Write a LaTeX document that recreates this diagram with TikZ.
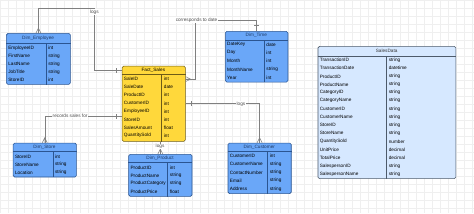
\documentclass[tikz,border=0pt]{standalone}
\usepackage{fontspec}
\setmainfont{Liberation Sans}
\usetikzlibrary{calc,positioning}
\definecolor{dimblue}{HTML}{6AA7F8}
\definecolor{dimline}{HTML}{2B5591}
\definecolor{dimtext}{HTML}{1E3A66}
\definecolor{factyellow}{HTML}{FFD83B}
\definecolor{factline}{HTML}{6E5C17}
\definecolor{srcblue}{HTML}{D6E8FF}
\definecolor{srcline}{HTML}{4D5A6A}
\definecolor{linegray}{HTML}{808080}
\definecolor{gridgray}{HTML}{EFEFEF}

\begin{document}
\begin{tikzpicture}[x=1pt, y=-1pt,
    every node/.style={font=\fontsize{4.7}{5}\selectfont, text=black, inner sep=0pt},
    dimbox/.style={draw=dimline, fill=dimblue, line width=0.6pt, rounded corners=1.5pt, anchor=north west},
    factbox/.style={draw=factline, fill=factyellow, line width=0.6pt, rounded corners=1.5pt, anchor=north west},
    srcbox/.style={draw=srcline, fill=srcblue, line width=0.6pt, rounded corners=1.5pt, anchor=north west},
    fld/.style={anchor=west},
    head/.style={text=dimtext},
    conn/.style={draw=linegray, line width=0.5pt},
    lbl/.style={fill=white, inner sep=0.6pt, text=black!70},
    crow/.pic={\draw[linegray, line width=0.5pt] (-2.5pt,0pt) -- (0pt,5pt) -- (2.5pt,0pt) (0pt,0pt) -- (0pt,5pt);},
    onebar/.pic={\draw[linegray, line width=0.5pt] (-2.5pt,6pt) -- (2.5pt,6pt);}]

    % Background grid
    \fill[white] (0,0) rectangle (474,213);
    \draw[gridgray, line width=0.3pt, step=8pt] (0,0) grid (474,213);
    \useasboundingbox (0,0) rectangle (474,213);

    % Dim_Employee
    \node[dimbox, minimum width=64pt, minimum height=51pt] (emp) at (6,33) {};
    \draw[dimline, line width=0.6pt] ([yshift=-10pt]emp.north west) -- ([yshift=-10pt]emp.north east);
    \draw[dimline, line width=0.6pt] ([xshift=40pt,yshift=-10pt]emp.north west) -- ([xshift=40pt]emp.south west);
    \node[head] (emp-h) at (38,38) {Dim\_Employee};
    \foreach \f/\t [count=\i] in {EmployeeID/int, FirstName/string, LastName/string, JobTitle/string, StoreID/int}{
        \node[fld] (emp-f\i) at (8,40+8*\i) {\f};
        \node[fld] (emp-t\i) at (48,40+8*\i) {\t};
    }

    % Fact_Sales
    \node[factbox, minimum width=63.3pt, minimum height=75.3pt] (fact) at (121.7,65.7) {};
    \draw[factline, line width=0.6pt] ([yshift=-8.6pt]fact.north west) -- ([yshift=-8.6pt]fact.north east);
    \draw[factline, line width=0.6pt] ([xshift=40pt,yshift=-8.6pt]fact.north west) -- ([xshift=40pt]fact.south west);
    \node (fact-h) at (153.3,70) {Fact\_Sales};
    \foreach \f/\t [count=\i] in {SaleID/int, SaleDate/date, ProductID/int, CustomerID/int, EmployeeID/int, StoreID/int, SalesAmount/float, QuantitySold/int}{
        \node[fld] (fact-f\i) at (123.7,70.9+8.1*\i) {\f};
        \node[fld] (fact-t\i) at (163.7,70.9+8.1*\i) {\t};
    }

    % Dim_Time
    \node[dimbox, minimum width=62.7pt, minimum height=50.7pt] (time) at (225,31) {};
    \draw[dimline, line width=0.6pt] ([yshift=-9pt]time.north west) -- ([yshift=-9pt]time.north east);
    \draw[dimline, line width=0.6pt] ([xshift=39.3pt,yshift=-9pt]time.north west) -- ([xshift=39.3pt]time.south west);
    \node[head] (time-h) at (256.3,35.5) {Dim\_Time};
    \foreach \f/\t [count=\i] in {DateKey/date, Day/int, Month/int, MonthName/string, Year/int}{
        \node[fld] (time-f\i) at (227,36+8.35*\i) {\f};
        \node[fld] (time-t\i) at (266.3,36+8.35*\i) {\t};
    }

    % SalesData
    \node[srcbox, minimum width=138pt, minimum height=132.3pt] (src) at (317.7,46) {};
    \draw[srcline, line width=0.6pt] ([yshift=-10pt]src.north west) -- ([yshift=-10pt]src.north east);
    \draw[srcline, line width=0.6pt] ([xshift=69pt,yshift=-10pt]src.north west) -- ([xshift=69pt]src.south west);
    \node[text=black!80] (src-h) at (386.7,51) {SalesData};
    \foreach \f/\t [count=\i] in {TransactionID/string, TransactionDate/datetime, ProductID/string, ProductName/string,
        CategoryID/string, CategoryName/string, CustomerID/string, CustomerName/string, StoreID/string, StoreName/string,
        QuantitySold/number, UnitPrice/decimal, TotalPrice/decimal, SalespersonID/string, SalespersonName/string}{
        \node[fld] (src-f\i) at (319.7,51.86+8.14*\i) {\f};
        \node[fld] (src-t\i) at (388.7,51.86+8.14*\i) {\t};
    }

    % Dim_Store
    \node[dimbox, minimum width=63.3pt, minimum height=34pt] (store) at (12.7,142.7) {};
    \draw[dimline, line width=0.6pt] ([yshift=-9pt]store.north west) -- ([yshift=-9pt]store.north east);
    \draw[dimline, line width=0.6pt] ([xshift=40pt,yshift=-9pt]store.north west) -- ([xshift=40pt]store.south west);
    \node[head] (store-h) at (44.3,147.2) {Dim\_Store};
    \foreach \f/\t [count=\i] in {StoreID/int, StoreName/string, Location/string}{
        \node[fld] (store-f\i) at (14.7,148.8+7.9*\i) {\f};
        \node[fld] (store-t\i) at (54.7,148.8+7.9*\i) {\t};
    }

    % Dim_Product
    \node[dimbox, minimum width=63.4pt, minimum height=42pt] (prod) at (128.3,154) {};
    \draw[dimline, line width=0.6pt] ([yshift=-8.3pt]prod.north west) -- ([yshift=-8.3pt]prod.north east);
    \draw[dimline, line width=0.6pt] ([xshift=39.4pt,yshift=-8.3pt]prod.north west) -- ([xshift=39.4pt]prod.south west);
    \node[head] (prod-h) at (160,158.2) {Dim\_Product};
    \foreach \f/\t [count=\i] in {ProductID/int, ProductName/string, ProductCategory/string, ProductPrice/float}{
        \node[fld] (prod-f\i) at (130.3,159.1+8.2*\i) {\f};
        \node[fld] (prod-t\i) at (169.7,159.1+8.2*\i) {\t};
    }

    % Dim_Customer
    \node[dimbox, minimum width=63.3pt, minimum height=50.6pt] (cust) at (227.7,142.7) {};
    \draw[dimline, line width=0.6pt] ([yshift=-9pt]cust.north west) -- ([yshift=-9pt]cust.north east);
    \draw[dimline, line width=0.6pt] ([xshift=40pt,yshift=-9pt]cust.north west) -- ([xshift=40pt]cust.south west);
    \node[head] (cust-h) at (259.3,147.2) {Dim\_Customer};
    \foreach \f/\t [count=\i] in {CustomerID/int, CustomerName/string, ContactNumber/string, Email/string, Address/string}{
        \node[fld] (cust-f\i) at (229.7,147.75+8.25*\i) {\f};
        \node[fld] (cust-t\i) at (269.7,147.75+8.25*\i) {\t};
    }

    % Relations
    \coordinate (c-emp) at (94.3,8);
    \draw[conn] (emp.north) |- (c-emp) |- (fact.west |- fact-h);
    \pic at (emp.north) {crow};
    \pic[rotate=90] at (fact.west |- fact-h) {onebar};
    \node[lbl] (l-emp) at (94.3,12) {logs};

    \coordinate (c-time) at (195,20);
    \draw[conn] (fact.east |- fact-f1) -| (c-time) -| (time.north);
    \pic[rotate=-90] at (fact.east |- fact-f1) {crow};
    \pic at (time.north) {onebar};
    \node[lbl] (l-time) at (196.5,20) {corresponds to date};

    \draw[conn] (fact.east |- fact-f4) -| (cust.north);
    \pic[rotate=-90] at (fact.east |- fact-f4) {onebar};
    \pic at (cust.north) {crow};
    \node[lbl] (l-cust) at (241,104) {logs};

    \draw[conn] ([yshift=-12.6pt]fact.west) -| (store.north);
    \pic[rotate=90] at ([yshift=-12.6pt]fact.west) {onebar};
    \pic at (store.north) {crow};
    \node[lbl] (l-store) at (70,115.9) {records sales for};

    \draw[conn] (prod.north |- fact.south) -- (prod.north);
    \pic[rotate=180] at (prod.north |- fact.south) {onebar};
    \pic at (prod.north) {crow};
    \node[lbl] (l-prod) at (160,146.6) {logs};
\end{tikzpicture}
\end{document}
